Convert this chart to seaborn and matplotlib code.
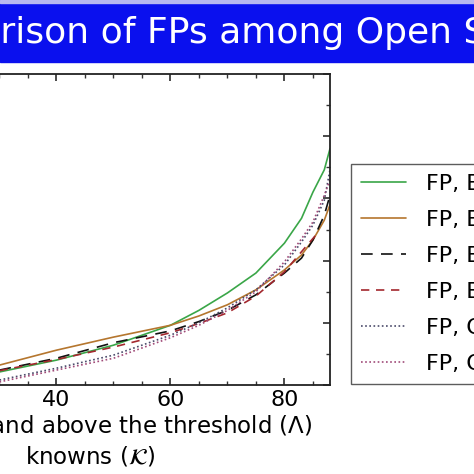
import matplotlib
matplotlib.use("Agg")
import matplotlib.pyplot as plt
import matplotlib.patches as patches
from matplotlib.ticker import MultipleLocator
import seaborn as sns
import pandas as pd

sns.set_theme(style="white")
plt.rcParams['font.family'] = ['DejaVu Sans']
plt.rcParams['text.color'] = 'black'
plt.rcParams['xtick.color'] = 'black'

x_pts = [30, 40, 50, 60, 65, 70, 75, 80, 83, 85, 87, 88]
fp_eos_a = [2.1, 4.0, 6.4, 9.6, 12.0, 14.8, 18.0, 22.8, 26.8, 31.0, 34.6, 38.0]
fp_eos_b = [3.2, 5.6, 7.7, 9.6, 11.1, 12.9, 15.3, 18.5, 20.9, 23.3, 26.5, 29.0]
fp_eos_c = [2.4, 4.3, 6.8, 8.7, 10.2, 12.0, 14.5, 18.0, 20.4, 23.3, 27.3, 30.5]
x_red = [30, 40, 50, 60, 65, 70, 75, 80, 84, 86]
fp_eos_d = [2.3, 4.1, 6.1, 8.4, 9.9, 11.6, 14.3, 18.2, 22.5, 24.6]
fp_obj_a = [0.8, 2.7, 4.8, 8.0, 10.0, 12.4, 15.3, 19.3, 23.0, 25.7, 29.7, 34.6]
fp_obj_b = [0.5, 2.4, 4.3, 7.6, 9.6, 12.0, 15.0, 19.8, 23.5, 26.2, 30.5, 33.0]

labels = ["FP, EOS (ours)", "FP, EOS (baseline)", "FP, EOS + BG", "FP, EOS + BG (ours)",
          "FP, Obj. (ours)", "FP, Obj. (baseline)"]
colors = ["#3aa648", "#b5762e", "#111111", "#a3282e", "#4a4a6a", "#a04a78"]
styles = ["-", "-", (0, (7, 5)), (0, (5, 4)), (0, (1, 1.5)), (0, (1, 1.5))]
series = [(x_pts, fp_eos_a), (x_pts, fp_eos_b), (x_pts, fp_eos_c), (x_red, fp_eos_d),
          (x_pts, fp_obj_a), (x_pts, fp_obj_b)]

W = H = 474
fig = plt.figure(figsize=(4.74, 4.74), dpi=100)

# title banner
fig.patches.append(patches.Rectangle((0, 1 - 62 / H), 1, 62 / H, transform=fig.transFigure,
                                     color="#0a10ee", zorder=0))
fig.patches.append(patches.Rectangle((0, 1 - 3 / H), 1, 3 / H, transform=fig.transFigure,
                                     color="#b8b8f0", zorder=1))

ax = fig.add_axes([-29 / W, (H - 385) / H, 359 / W, 311 / H])
for (xs, ys), lab, c, ls in zip(series, labels, colors, styles):
    df = pd.DataFrame({"x": xs, "y": ys})
    sns.lineplot(data=df, x="x", y="y", ax=ax, color=c, linestyle=ls, linewidth=1.2, label=lab)

ax.set_xlim(25, 88)
ax.set_ylim(0, 50)
ax.xaxis.set_major_locator(MultipleLocator(20))
ax.xaxis.set_minor_locator(MultipleLocator(5))
ax.yaxis.set_major_locator(MultipleLocator(10))
ax.yaxis.set_minor_locator(MultipleLocator(5))
ax.tick_params(which="both", direction="in", top=True, right=True, bottom=True, left=True,
               labelsize=16, color="#333333")
ax.tick_params(which="major", length=5)
ax.tick_params(which="minor", length=3)
ax.set_yticklabels([])
ax.set_xlabel("")
ax.set_ylabel("")
for s in ax.spines.values():
    s.set_color("#222222")
    s.set_linewidth(1.3)

h, l = ax.get_legend_handles_labels()
ax.legend_.remove()
fig.legend(h, l, loc="upper left", bbox_to_anchor=(340 / W, 1 - 153 / H), fontsize=16,
           frameon=True, fancybox=False, edgecolor="#333333", handlelength=2.0,
           labelspacing=0.72, borderpad=0.45, handletextpad=0.9)

# title, cropped on the left
renderer = fig.canvas.get_renderer()
probe = fig.text(0, 0, "Compa", fontsize=26)
wpre = probe.get_window_extent(renderer).width
probe.remove()
fig.text(-wpre / W, 1 - 33 / H, "Comparison of FPs among Open Set Approaches", fontsize=26,
         color="white", va="center", ha="left")

fig.text(312 / W, 1 - 427 / H, "Percentage of correct and above the threshold ($\\Lambda$)",
         fontsize=16.5, ha="right", va="center")
fig.text(25 / W, 1 - 457 / H, "knowns ($\\mathcal{K}$)", fontsize=16.5, ha="left", va="center")

fig.savefig("out.png", dpi=100)
